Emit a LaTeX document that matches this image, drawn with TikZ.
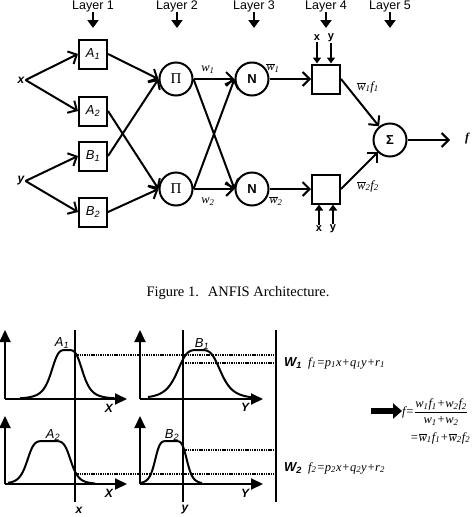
\documentclass[tikz,border=0pt]{standalone}
\usepackage{fontspec}
\setmainfont{Liberation Serif}
\setsansfont{Liberation Sans}
\usetikzlibrary{arrows.meta}
\newcommand{\wbar}{$\overline{\mbox{\itshape w}}$}
\newcommand{\sub}[1]{\textsubscript{#1}}
\begin{document}
\begin{tikzpicture}[x=1pt,y=-1pt,
  lbl/.style={font=\sffamily\fontsize{12.5}{14}\selectfont},
  layerarr/.style={line width=2pt,-{Triangle[length=8pt,width=11pt]}},
  smallarr/.style={line width=1.8pt,-{Triangle[length=6pt,width=8pt]}},
  mfbox/.style={draw,line width=2pt,minimum width=28pt,minimum height=29pt,inner sep=0pt,font=\sffamily\itshape\fontsize{13}{14}\selectfont},
  circ/.style={draw,circle,line width=2pt,minimum size=33pt,inner sep=0pt},
  conn/.style={line width=2pt,-{Straight Barb[length=7pt,width=14pt,line width=2pt]}},
  inlab/.style={font=\sffamily\bfseries\itshape\fontsize{12}{14}\selectfont,inner sep=1pt},
  wlab/.style={font=\itshape\fontsize{12.5}{14}\selectfont,inner sep=1pt},
  ax/.style={line width=2pt,-{Triangle[length=12pt,width=11pt]}},
  curve/.style={line width=2pt},
  vline/.style={line width=2pt},
  dots/.style={line width=1.6pt,dash pattern=on 1.4pt off 0.9pt},
  axlab/.style={font=\sffamily\bfseries\itshape\fontsize{12}{14}\selectfont,inner sep=0pt},
  eq/.style={font=\itshape\fontsize{12.5}{14}\selectfont,inner sep=0pt}]
\useasboundingbox (0,0) rectangle (474,517);
% layer labels
\foreach \n/\xx/\t in {L1/93/Layer 1,L2/177/Layer 2,L3/254/Layer 3,L4/326/Layer 4,L5/390/Layer 5}{
  \node[lbl,inner sep=0pt] (\n) at (\xx,6) {\t};
  \coordinate (\n e) at (\xx,28);
  \draw[layerarr] (\n.south) -- (\n e);
}
% inputs
\node[inlab] (x) at (21,80) {x};
\node[inlab] (y) at (21,181) {y};
% layer 1
\node[mfbox] (A1) at (93,54) {A\sub{1}};
\node[mfbox] (A2) at (93,111) {A\sub{2}};
\node[mfbox] (B1) at (93,156) {B\sub{1}};
\node[mfbox] (B2) at (93,212) {B\sub{2}};
% layer 2
\node[circ,font=\fontsize{15}{16}\selectfont] (P1) at (176,79) {Π};
\node[circ,font=\fontsize{15}{16}\selectfont] (P2) at (176,189) {Π};
% layer 3
\node[circ,font=\sffamily\bfseries\fontsize{13}{14}\selectfont] (N1) at (252,79) {N};
\node[circ,font=\sffamily\bfseries\fontsize{13}{14}\selectfont] (N2) at (252,189) {N};
% layer 4
\node[mfbox] (Q1) at (326,79) {};
\node[mfbox] (Q2) at (326,189) {};
% layer 5
\node[circ,font=\sffamily\bfseries\fontsize{13}{14}\selectfont] (S) at (390,140) {Σ};
\node[font=\itshape\bfseries\fontsize{12}{14}\selectfont] (f) at (467,139) {f};
\coordinate (fend) at (450,140);
% connectors
\draw[conn] (x.east) -- (A1.west);
\draw[conn] (x.east) -- (A2.west);
\draw[conn] (y.east) -- (B1.west);
\draw[conn] (y.east) -- (B2.west);
\draw[conn] (A1.east) -- (P1.west);
\draw[conn] (B1.east) -- (P1.west);
\draw[conn] (A2.east) -- (P2.west);
\draw[conn] (B2.east) -- (P2.west);
\draw[conn] (P1.east) -- (N1.west);
\draw[conn] (P1.east) -- (N2.west);
\draw[conn] (P2.east) -- (N1.west);
\draw[conn] (P2.east) -- (N2.west);
\draw[conn] (N1.east) -- (Q1.west);
\draw[conn] (N2.east) -- (Q2.west);
\draw[conn] (Q1.east) -- (S);
\draw[conn] (Q2.east) -- (S);
\draw[conn] (S.east) -- (fend);
% edge labels
\node[wlab] (w1) at (208,70) {w\sub{1}};
\node[wlab] (w2) at (208,202) {w\sub{2}};
\node[wlab] (wb1) at (273,68) {\wbar\sub{1}};
\node[wlab] (wb2) at (276,201) {\wbar\sub{2}};
\node[wlab] (wf1) at (368,87) {\wbar\sub{1}f\sub{1}};
\node[wlab] (wf2) at (368,186) {\wbar\sub{2}f\sub{2}};
% x y inputs of layer 4
\node[font=\sffamily\bfseries\fontsize{11}{12}\selectfont,inner sep=1pt] (xt) at (317,38) {x};
\node[font=\sffamily\bfseries\fontsize{11}{12}\selectfont,inner sep=1pt] (yt) at (331,38) {y};
\node[font=\sffamily\bfseries\fontsize{11}{12}\selectfont,inner sep=1pt] (xb) at (319,229) {x};
\node[font=\sffamily\bfseries\fontsize{11}{12}\selectfont,inner sep=1pt] (yb) at (333,229) {y};
\draw[smallarr] (xt.south) -- (xt.south |- Q1.north);
\draw[smallarr] (yt.south) -- (yt.south |- Q1.north);
\draw[smallarr] (xb.north) -- (xb.north |- Q2.south);
\draw[smallarr] (yb.north) -- (yb.north |- Q2.south);
% caption
\node[font=\fontsize{14.5}{16}\selectfont] (cap) at (238,293) {Figure 1.\hspace{9pt}ANFIS Architecture.};
% ---------- membership function panels ----------
\draw[ax] (5,399) -- (5,330);
\draw[ax] (5,399) -- (127,399);
\draw[ax] (140,399) -- (140,330);
\draw[ax] (140,399) -- (263,399);
\draw[ax] (5,484) -- (5,416);
\draw[ax] (5,484) -- (127,484);
\draw[ax] (140,484) -- (140,416);
\draw[ax] (140,484) -- (263,484);
\draw[vline] (75,330) -- (75,502);
\draw[vline] (183,330) -- (183,502);
\draw[vline] (276,330) -- (276,502);
\draw[dots] (75,355) -- (276,355);
\draw[dots] (183,363) -- (276,363);
\draw[dots] (183,450) -- (276,450);
\draw[dots] (75,474) -- (276,474);
% curves
\draw[curve] plot[domain=20:118,samples=90] (\x,{399-49/(1+((\x-67)/16.6)*((\x-67)/16.6)*((\x-67)/16.6)*((\x-67)/16.6))});
\draw[curve] plot[domain=148:255,samples=90] (\x,{399-49/(1+((\x-199)/23)*((\x-199)/23)*((\x-199)/23)*((\x-199)/23))});
\draw[curve] plot[domain=8:95,samples=90] (\x,{484-43/(1+((\x-49)/22.4)*((\x-49)/22.4)*((\x-49)/22.4)*((\x-49)/22.4)*((\x-49)/22.4)*((\x-49)/22.4))});
\draw[curve] plot[domain=141:202,samples=90] (\x,{484-43/(1+((\x-171)/16.5)*((\x-171)/16.5)*((\x-171)/16.5)*((\x-171)/16.5)*((\x-171)/16.5)*((\x-171)/16.5))});
% panel labels
\node[axlab,font=\sffamily\itshape\fontsize{13}{14}\selectfont] (la1) at (62,343) {A\sub{1}};
\node[axlab,font=\sffamily\itshape\fontsize{13}{14}\selectfont] (lb1) at (202,344) {B\sub{1}};
\node[axlab,font=\sffamily\itshape\fontsize{13}{14}\selectfont] (la2) at (53,435) {A\sub{2}};
\node[axlab,font=\sffamily\itshape\fontsize{13}{14}\selectfont] (lb2) at (172,435) {B\sub{2}};
\node[axlab] (X1) at (109,408) {X};
\node[axlab] (Y1) at (245,407) {Y};
\node[axlab] (X2) at (109,493) {X};
\node[axlab] (Y2) at (245,493) {Y};
\node[axlab] (xv) at (79,510) {x};
\node[axlab] (yv) at (185,510) {y};
\node[axlab,anchor=west,font=\sffamily\bfseries\itshape\fontsize{13}{14}\selectfont] (W1) at (284,363) {W\sub{1}};
\node[axlab,anchor=west,font=\sffamily\bfseries\itshape\fontsize{13}{14}\selectfont] (W2) at (284,468) {W\sub{2}};
\node[eq,anchor=west] (e1) at (308,363) {f\sub{1}=p\sub{1}x+q\sub{1}y+r\sub{1}};
\node[eq,anchor=west] (e2) at (308,468) {f\sub{2}=p\sub{2}x+q\sub{2}y+r\sub{2}};
\coordinate (ba) at (371,411);
\coordinate (bb) at (402,411);
\draw[line width=6.5pt,-{Triangle[length=9pt,width=15pt]}] (ba) -- (bb);
\node[eq,anchor=west] (e3) at (402,412) {f=$\displaystyle\frac{\mbox{\itshape w\sub{1}f\sub{1}+w\sub{2}f\sub{2}}}{\mbox{\itshape w\sub{1}+w\sub{2}}}$};
\node[eq,anchor=west] (e4) at (410,438) {=\wbar\sub{1}f\sub{1}+\wbar\sub{2}f\sub{2}};
\end{tikzpicture}
\end{document}
